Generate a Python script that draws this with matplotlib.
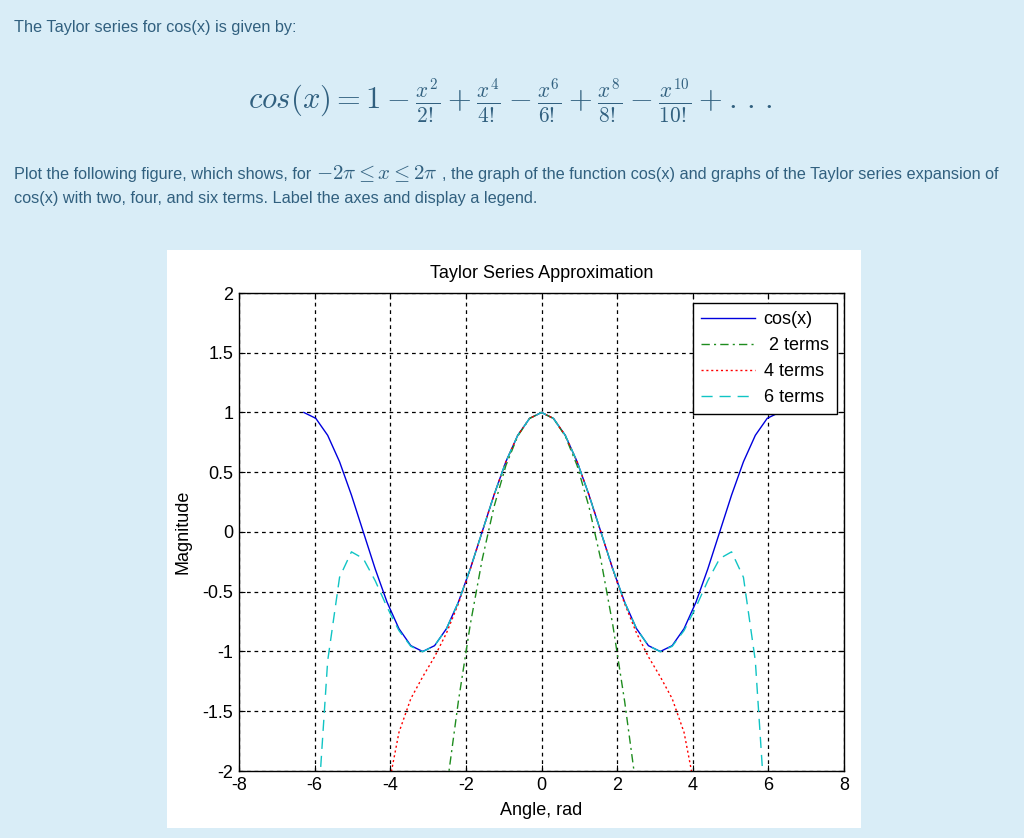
import matplotlib
matplotlib.use("Agg")
import matplotlib.pyplot as plt
from matplotlib.patches import Rectangle

plt.rcParams['font.family'] = ['Liberation Sans', 'DejaVu Sans']
plt.rcParams['mathtext.fontset'] = 'cm'

# sampled angle, rad (-2pi .. 2pi)
angle = [-6.2832, -5.9690, -5.6549, -5.3407, -5.0265, -4.7124, -4.3982, -4.0841,
         -3.7699, -3.4558, -3.1416, -2.8274, -2.5133, -2.1991, -1.8850, -1.5708,
         -1.2566, -0.9425, -0.6283, -0.3142, 0.0,
         0.3142, 0.6283, 0.9425, 1.2566, 1.5708, 1.8850, 2.1991, 2.5133,
         2.8274, 3.1416, 3.4558, 3.7699, 4.0841, 4.3982, 4.7124, 5.0265,
         5.3407, 5.6549, 5.9690, 6.2832]

cos_x = [1.0, 0.9511, 0.8090, 0.5878, 0.3090, 0.0, -0.3090, -0.5878,
         -0.8090, -0.9511, -1.0, -0.9511, -0.8090, -0.5878, -0.3090, 0.0,
         0.3090, 0.5878, 0.8090, 0.9511, 1.0,
         0.9511, 0.8090, 0.5878, 0.3090, 0.0, -0.3090, -0.5878, -0.8090,
         -0.9511, -1.0, -0.9511, -0.8090, -0.5878, -0.3090, 0.0, 0.3090,
         0.5878, 0.8090, 0.9511, 1.0]

terms_2 = [-18.7392, -16.8146, -14.9888, -13.2616, -11.6331, -10.1033, -8.6722, -7.3398,
           -6.1061, -4.9711, -3.9348, -2.9972, -2.1583, -1.4181, -0.7765, -0.2337,
           0.2104, 0.5559, 0.8026, 0.9507, 1.0,
           0.9507, 0.8026, 0.5559, 0.2104, -0.2337, -0.7765, -1.4181, -2.1583,
           -2.9972, -3.9348, -4.9711, -6.1061, -7.3398, -8.6722, -10.1033, -11.6331,
           -13.2616, -14.9888, -16.8146, -18.7392]

terms_4 = [-39.2566, -26.7397, -17.7973, -11.5928, -7.4359, -4.7656, -3.1342, -2.1928,
           -1.6770, -1.3943, -1.2114, -1.0439, -0.8459, -0.6006, -0.3128, -0.0009,
           0.3089, 0.5878, 0.8090, 0.9511, 1.0,
           0.9511, 0.8090, 0.5878, 0.3089, -0.0009, -0.3128, -0.6006, -0.8459,
           -1.0439, -1.2114, -1.3943, -1.6770, -2.1928, -3.1342, -4.7656, -7.4359,
           -11.5928, -17.7973, -26.7397, -39.2566]

terms_6 = [-5.4385, -2.5946, -1.0782, -0.3794, -0.1660, -0.2225, -0.4077, -0.6289,
           -0.8250, -0.9567, -1.0018, -0.9516, -0.8091, -0.5878, -0.3090, 0.0,
           0.3090, 0.5878, 0.8090, 0.9511, 1.0,
           0.9511, 0.8090, 0.5878, 0.3090, 0.0, -0.3090, -0.5878, -0.8091,
           -0.9516, -1.0018, -0.9567, -0.8250, -0.6289, -0.4077, -0.2225, -0.1660,
           -0.3794, -1.0782, -2.5946, -5.4385]

series_labels = ['cos(x)', ' 2 terms', '4 terms', '6 terms']
x_ticks = [-8, -6, -4, -2, 0, 2, 4, 6, 8]
y_ticks = [-2, -1.5, -1, -0.5, 0, 0.5, 1, 1.5, 2]

page_bg = '#d9edf7'
ink = '#31607f'
W, H = 1024, 838
body_size = 11.7


def px(x, y):
    """pixel position (from top left) -> figure fraction"""
    return x / W, 1 - y / H


fig = plt.figure(figsize=(W / 100, H / 100), dpi=100, facecolor=page_bg)
renderer = fig.canvas.get_renderer()


def text_run(x, y, pieces):
    """write text pieces one after another on one baseline"""
    for txt, size, gap in pieces:
        t = fig.text(*px(x, y), txt, fontsize=size, color=ink, va='baseline', ha='left')
        x = t.get_window_extent(renderer).x1 + gap


# page text above the figure
fig.text(*px(14, 32), 'The Taylor series for cos(x) is given by:',
         fontsize=body_size, color=ink, va='baseline', ha='left')
fig.text(*px(248, 101),
         r'$cos(x) = 1 - \frac{x^2}{2!} + \frac{x^4}{4!} - \frac{x^6}{6!}'
         r' + \frac{x^8}{8!} - \frac{x^{10}}{10!} +.\,.\,.$',
         fontsize=22, color=ink, va='center', ha='left')
text_run(14, 179, [('Plot the following figure, which shows, for', body_size, 5),
                   (r'$-2\pi \leq x \leq 2\pi$', 15, 4),
                   (', the graph of the function cos(x) and graphs of the '
                    'Taylor series expansion of', body_size, 0)])
fig.text(*px(14, 203),
         'cos(x) with two, four, and six terms. Label the axes and display a legend.',
         fontsize=body_size, color=ink, va='baseline', ha='left')

# white figure panel
x0, y0 = px(167, 828)
fig.patches.append(Rectangle((x0, y0), 694 / W, 578 / H, transform=fig.transFigure,
                             facecolor='white', edgecolor='none', zorder=-1))

ax_l, ax_b = px(239, 771)
ax = fig.add_axes([ax_l, ax_b, 605 / W, 478 / H])

ax.plot(angle, cos_x, color='#0000dd', lw=1.0, label=series_labels[0])
ax.plot(angle, terms_2, color='#1e8c1e', lw=1.0, ls=(0, (6, 3, 1.5, 3)), label=series_labels[1])
ax.plot(angle, terms_4, color='#ff0000', lw=1.0, ls=(0, (1.5, 2)), label=series_labels[2])
ax.plot(angle, terms_6, color='#10c4c4', lw=1.0, ls=(0, (8, 5)), label=series_labels[3])

ax.set_xlim(-8, 8)
ax.set_ylim(-2, 2)
ax.set_xticks(x_ticks)
ax.set_yticks(y_ticks)
ax.set_xticklabels([f'{t:g}' for t in x_ticks])
ax.set_yticklabels([f'{t:g}' for t in y_ticks])
ax.tick_params(direction='in', top=True, right=True, labelsize=13, length=4, pad=4)
ax.grid(True, color='black', ls=(0, (3, 3)), lw=0.9)
for s in ax.spines.values():
    s.set_linewidth(1.0)

ax.set_title('Taylor Series Approximation', fontsize=13, pad=11)
ax.set_xlabel('Angle, rad', fontsize=13, labelpad=6)
ax.set_ylabel('Magnitude', fontsize=13, labelpad=8)

leg = ax.legend(loc='upper right', bbox_to_anchor=(0.988, 0.979), borderaxespad=0,
                fontsize=13, fancybox=False, framealpha=1, edgecolor='black',
                handlelength=3.0, labelspacing=0.5, borderpad=0.45, handletextpad=0.45)
leg.get_frame().set_linewidth(1.0)

fig.savefig('out.png', dpi=100, facecolor=page_bg)
